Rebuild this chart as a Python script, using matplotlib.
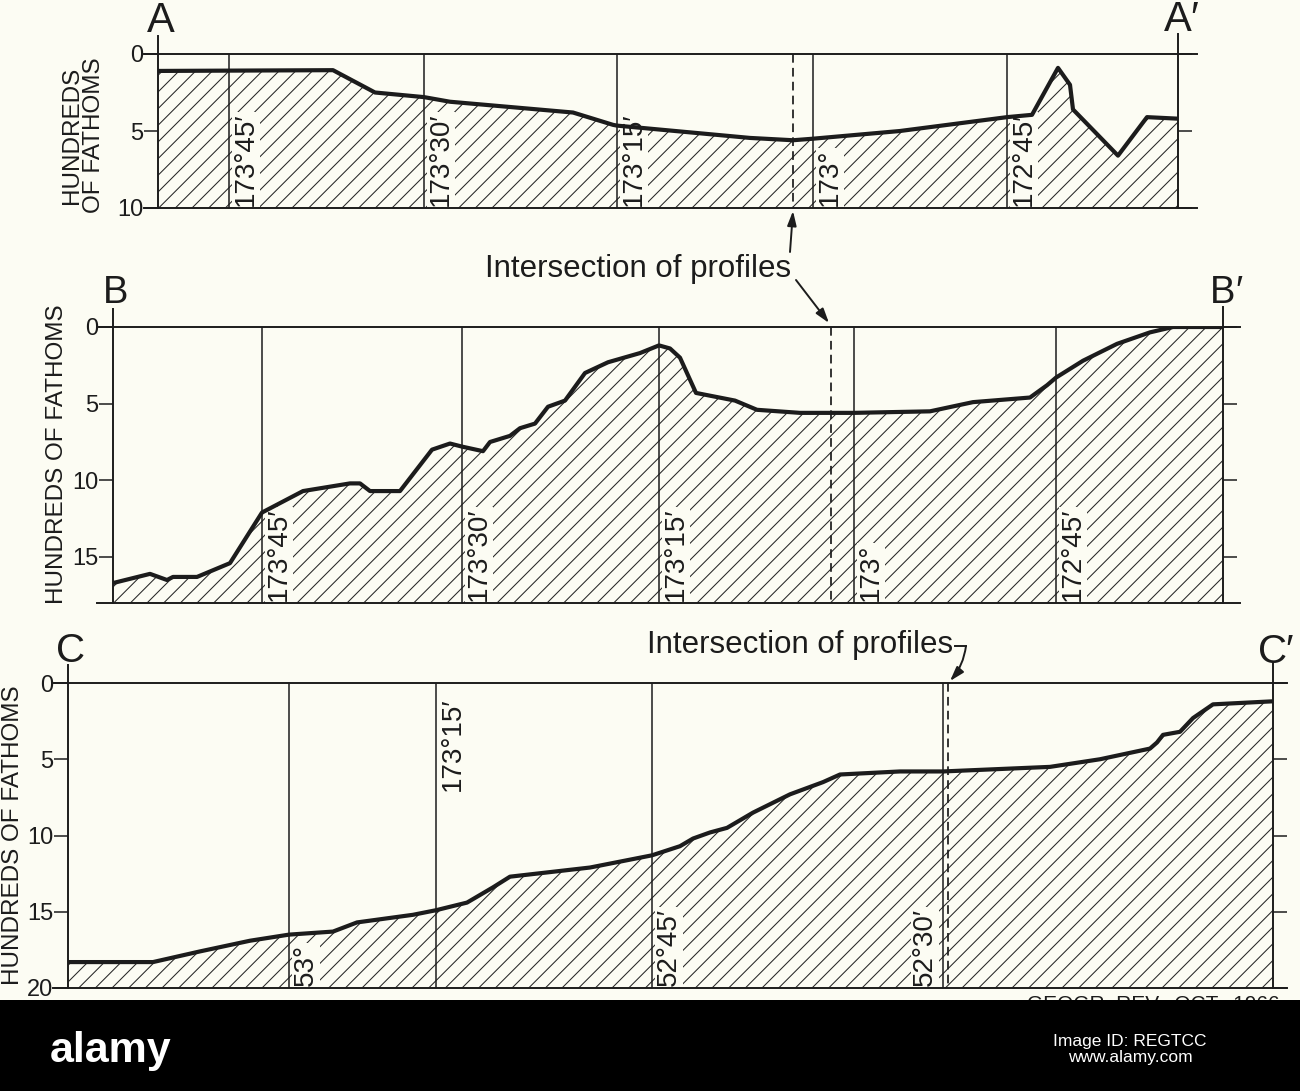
import matplotlib
matplotlib.use('Agg')
from matplotlib import pyplot
from matplotlib.patches import Rectangle

BG = '#fcfcf3'
INK = '#1c1c1c'
NARROW = ['Liberation Sans Narrow', 'Liberation Sans', 'DejaVu Sans']
SANS = ['Liberation Sans', 'DejaVu Sans']

pyplot.rcParams['font.family'] = NARROW
pyplot.rcParams['hatch.linewidth'] = 0.75

# --- profile A-A' (distance from A, depth in hundreds of fathoms)
a_dist = [0, 175, 217, 266, 292, 415, 455, 459, 592, 635, 655, 742, 849, 874,
          900, 912, 915, 960, 989, 1020]
a_depth = [1.1, 1.05, 2.5, 2.8, 3.1, 3.8, 4.6, 4.65, 5.45, 5.6, 5.5, 5.0, 4.1, 3.95,
           0.9, 2.0, 3.6, 6.6, 4.1, 4.2]
a_ticks = [0, 5, 10]
a_meridians = [71, 266, 459, 655, 849]
a_labels = ["173°45′", "173°30′", "173°15′", "173°", "172°45′"]
a_cross = 635

# --- profile B-B'
b_dist = [0, 37, 54, 60, 84, 117, 149, 190, 237, 247, 257, 287, 319, 337, 349, 370,
          377, 397, 407, 422, 435, 452, 472, 495, 527, 546, 557, 567, 583, 622, 644,
          687, 741, 817, 860, 917, 934, 943, 970, 1004, 1037, 1060, 1110]
b_depth = [16.7, 16.1, 16.5, 16.3, 16.3, 15.4, 12.1, 10.7, 10.2, 10.2, 10.7, 10.7, 8.0,
           7.6, 7.8, 8.1, 7.5, 7.1, 6.6, 6.3, 5.2, 4.8, 3.0, 2.3, 1.7, 1.2, 1.4, 2.0,
           4.3, 4.8, 5.4, 5.6, 5.6, 5.5, 4.9, 4.6, 3.8, 3.3, 2.2, 1.1, 0.35, 0.0, 0.0]
b_ticks = [0, 5, 10, 15]
b_meridians = [149, 349, 546, 741, 943]
b_labels = ["173°45′", "173°30′", "173°15′", "173°", "172°45′"]
b_cross = 718

# --- profile C-C'
c_dist = [0, 85, 132, 182, 221, 265, 289, 345, 368, 399, 425, 442, 522, 584, 612, 625,
          642, 659, 685, 722, 755, 772, 832, 875, 982, 1032, 1082, 1089, 1095, 1112,
          1125, 1145, 1205]
c_depth = [18.3, 18.3, 17.6, 16.9, 16.5, 16.3, 15.7, 15.2, 14.9, 14.4, 13.4, 12.7, 12.1,
           11.3, 10.7, 10.2, 9.8, 9.5, 8.5, 7.3, 6.5, 6.0, 5.8, 5.8, 5.5, 5.0, 4.3, 3.9,
           3.4, 3.2, 2.3, 1.4, 1.2]
c_ticks = [0, 5, 10, 15, 20]
c_meridians = [221, 368, 584, 875]
c_labels = ["53°", "173°15′", "52°45′", "52°30′"]
c_label_spots = ['bottom', 'top', 'bottom', 'left']
c_cross = 880

W, H = 1300, 1091
fig = pyplot.figure(figsize=(W / 100, H / 100), dpi=100)
fig.patch.set_facecolor(BG)


def draw_profile(box, dist, depth, dmax, ticks, meridians, labels, spots, cross, ext):
    left, top, right, bottom = box
    width = right - left
    ax = fig.add_axes([left / W, 1 - bottom / H, width / W, (bottom - top) / H])
    ax.set_facecolor('none')
    ax.set_xlim(0, width)
    ax.set_ylim(dmax, 0)
    for s in ax.spines.values():
        s.set_visible(False)
    ax.set_xticks([])
    ax.set_yticks(ticks)
    ax.set_yticklabels([str(t) for t in ticks])
    ax.tick_params(axis='y', left=True, right=True, direction='out', length=10,
                   width=1.1, color=INK, labelsize=17, pad=0.5, labelcolor=INK)

    ax.fill_between(dist, depth, dmax, facecolor='none', edgecolor='#262626',
                    hatch='//', linewidth=0)
    ax.plot(dist, depth, color=INK, lw=3, solid_joinstyle='round', zorder=5)

    per_px = dmax / (bottom - top)
    ax.plot([0, 0], [dmax, -18 * per_px], color=INK, lw=1.4, clip_on=False)
    ax.plot([width, width], [dmax, -20 * per_px], color=INK, lw=1.4, clip_on=False)
    for d in (0, dmax):
        ax.plot([-ext[0], width + ext[1]], [d, d], color=INK, lw=1.4, clip_on=False)

    box_style = dict(facecolor=BG, edgecolor='none', pad=0.6)
    for mx, lab, spot in zip(meridians, labels, spots):
        ax.plot([mx, mx], [0, dmax], color=INK, lw=1.1)
        if spot == 'top':
            ax.annotate(lab, xy=(mx, 0), xytext=(4, -14), textcoords='offset pixels',
                        rotation=90, ha='left', va='top', fontsize=20, color=INK,
                        bbox=box_style)
        elif spot == 'left':
            ax.annotate(lab, xy=(mx, dmax), xytext=(-5, 2), textcoords='offset pixels',
                        rotation=90, ha='right', va='bottom', fontsize=20, color=INK,
                        bbox=box_style)
        else:
            ax.annotate(lab, xy=(mx, dmax), xytext=(4, 2), textcoords='offset pixels',
                        rotation=90, ha='left', va='bottom', fontsize=20, color=INK,
                        bbox=box_style)
    ax.plot([cross, cross], [0, dmax], color=INK, lw=1.25, linestyle=(0, (5, 3)))
    return ax


draw_profile((158, 54, 1178, 208), a_dist, a_depth, 10, a_ticks, a_meridians,
             a_labels, ['bottom'] * 5, a_cross, (14, 19))
draw_profile((113, 327, 1223, 603), b_dist, b_depth, 18, b_ticks, b_meridians,
             b_labels, ['bottom'] * 5, b_cross, (16, 17))
draw_profile((68, 683, 1273, 988), c_dist, c_depth, 20, c_ticks, c_meridians,
             c_labels, c_label_spots, c_cross, (15, 14))

# overlay in pixel coordinates for lettering and arrows
over = fig.add_axes([0, 0, 1, 1])
over.set_xlim(0, W)
over.set_ylim(H, 0)
over.axis('off')
over.patch.set_alpha(0)

for x, y, letter, size in [(158, 32, 'A', 30), (113, 303, 'B', 27.5), (68, 662, 'C', 29)]:
    over.text(x + 3, y, letter, ha='center', va='baseline', fontsize=size,
              family=SANS, color=INK)
for x, y, letter, size in [(1178, 31, 'A', 30), (1223, 303, 'B', 27.5), (1273, 663, 'C', 29)]:
    over.text(x, y, letter, ha='center', va='baseline', fontsize=size,
              family=SANS, color=INK)
    over.text(x + 12, y, '′', ha='left', va='baseline', fontsize=size,
              family=SANS, color=INK)

over.text(83, 135, 'HUNDREDS\nOF FATHOMS', rotation=90, ha='center', va='center',
          fontsize=17.5, family=SANS, color=INK, linespacing=1.05)
over.text(57, 454, 'HUNDREDS OF FATHOMS', rotation=90, ha='center', va='center',
          fontsize=17.5, family=SANS, color=INK)
over.text(13, 835, 'HUNDREDS OF FATHOMS', rotation=90, ha='center', va='center',
          fontsize=17.5, family=SANS, color=INK)

over.text(791, 277, 'Intersection of profiles', ha='right', va='baseline',
          fontsize=22.5, family=SANS, color=INK)
arrow = dict(arrowstyle='-|>,head_length=0.7,head_width=0.22', color=INK, lw=1.4,
             shrinkA=0, shrinkB=0, mutation_scale=12.5)
over.annotate('', xy=(793, 211), xytext=(790, 252), arrowprops=arrow)
over.annotate('', xy=(829, 323), xytext=(796, 280), arrowprops=arrow)

over.text(647, 653, 'Intersection of profiles', ha='left', va='baseline',
          fontsize=22.5, family=SANS, color=INK)
over.plot([955, 966], [646, 646], color=INK, lw=1.4)
over.annotate('', xy=(950, 681), xytext=(966, 646),
              arrowprops=dict(arrow, connectionstyle='arc3,rad=-0.15'))

over.text(1027, 994, 'GEOGR. REV., OCT., 1966', ha='left', va='top', fontsize=15,
          color=INK, zorder=1)
over.add_patch(Rectangle((0, 1000), W, 91, facecolor='black', edgecolor='none', zorder=10))
over.text(50, 1062, 'alamy', ha='left', va='baseline', fontsize=31, fontweight='bold',
          color='white', zorder=11)
over.text(1130, 1046, 'Image ID: REGTCC', ha='center', va='baseline', fontsize=12.5,
          family=SANS, color='white', zorder=11)
over.text(1130, 1062, 'www.alamy.com', ha='center', va='baseline', fontsize=12.5,
          family=SANS, color='white', zorder=11)

fig.savefig('out.png', dpi=100, facecolor=BG)
